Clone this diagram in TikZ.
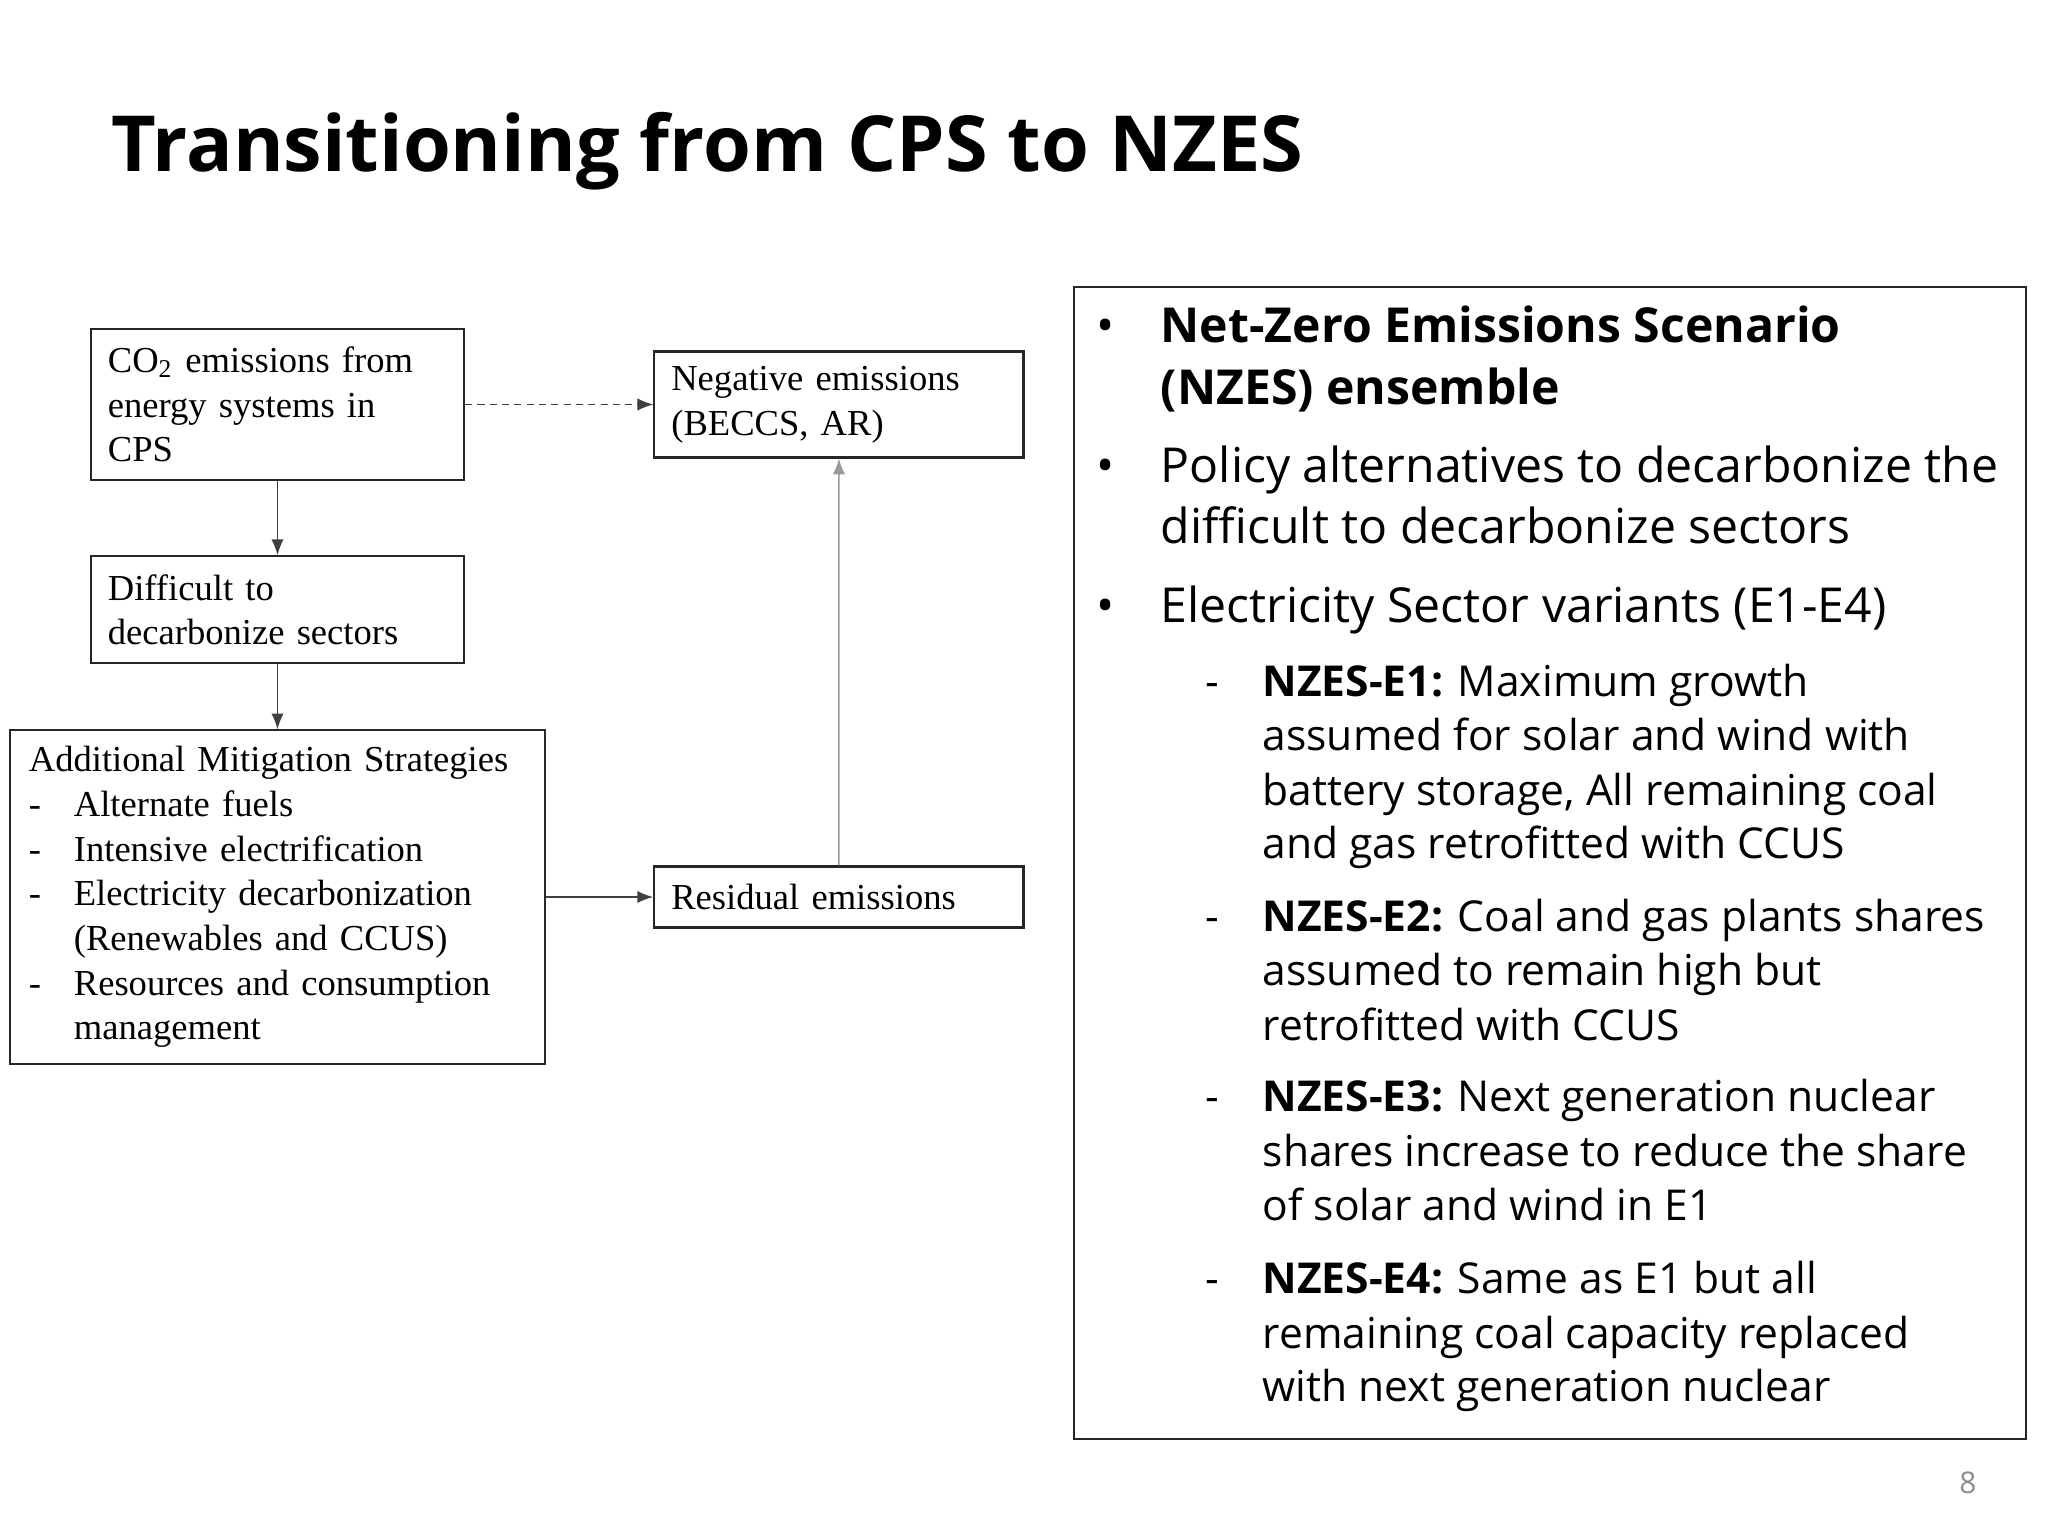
\documentclass[tikz,border=0pt]{standalone}
\usepackage{fontspec}
\setmainfont{Liberation Serif}
\newfontfamily\slidefont{Open Sans}
\definecolor{BoxLine}{gray}{0.15}
\definecolor{ArrowGray}{gray}{0.25}
\definecolor{PageGray}{gray}{0.55}
\usetikzlibrary{positioning, arrows.meta}

\begin{document}
\begin{tikzpicture}[
    x=0.01cm, y=-0.01cm,
    >={Latex[length=4.5pt, width=3.5pt]},
    flow_box/.style={draw=BoxLine, line width=0.6pt, inner xsep=0.17cm, inner ysep=0pt, align=left,
        font=\fontsize{10.4}{12.7}\selectfont},
    flow_arrow/.style={->, ArrowGray, line width=0.4pt},
    lvl_one/.style={anchor=base west, inner sep=0pt, font=\slidefont\fontsize{13.7}{17}\selectfont},
    lvl_two/.style={anchor=base west, inner sep=0pt, font=\slidefont\fontsize{12.1}{15}\selectfont}
]
    \useasboundingbox (0,0) rectangle (2048,1536);

    % 1. SLIDE TITLE
    \node[anchor=base west, inner sep=0pt, font=\slidefont\bfseries\fontsize{22}{26}\selectfont] (title) at (111,171) {Transitioning from CPS to NZES};

    % 2. FLOW DIAGRAM (Left)
    \node[flow_box, text width=3.39cm, minimum height=1.51cm] (cps) at (277.5,404.5) {CO\textsubscript{2} emissions from\\energy systems in\\CPS};
    \node[flow_box, text width=3.39cm, minimum height=1.07cm, below=0.74cm of cps] (hard) {Difficult to\\decarbonize sectors};
    \node[flow_box, inner xsep=0.19cm, text width=4.97cm, minimum height=3.33cm, below=0.65cm of hard] (mitig) {Additional Mitigation Strategies\\
        \makebox[0.45cm][l]{-}Alternate fuels\\
        \makebox[0.45cm][l]{-}Intensive electrification\\
        \makebox[0.45cm][l]{-}Electricity decarbonization\\
        \hspace*{0.45cm}(Renewables and CCUS)\\
        \makebox[0.45cm][l]{-}Resources and consumption\\
        \hspace*{0.45cm}management};
    \node[flow_box, text width=3.35cm, minimum height=1.06cm, right=1.88cm of cps] (neg) {Negative emissions\\(BECCS, AR)};
    \node[flow_box, text width=3.35cm, minimum height=0.61cm, right=1.07cm of mitig] (resid) {Residual emissions};

    \draw[flow_arrow, dash pattern=on 2pt off 1.5pt] (cps) -- (neg);
    \draw[flow_arrow] (cps) -- (hard);
    \draw[flow_arrow] (hard) -- (mitig);
    \draw[flow_arrow, line width=0.6pt] (mitig) -- (resid);
    \draw[flow_arrow, gray!80] (resid) -- (neg);

    % 3. SCENARIO PANEL (Right)
    \draw[BoxLine, line width=0.6pt] (1074,287) rectangle (2026,1439);
    \foreach \y in {342, 482, 622} {
        \node[lvl_one, anchor=base] (dot\y) at (1106,\y) {•};
    }
    \foreach \y/\t in {342/{\bfseries Net-Zero Emissions Scenario}, 404/{\bfseries (NZES) ensemble},
        482/{Policy alternatives to decarbonize the}, 543/{difficult to decarbonize sectors},
        622/{Electricity Sector variants (E1-E4)}} {
        \node[lvl_one] (one\y) at (1160,\y) {\t};
    }
    \foreach \y in {696, 931, 1111, 1293} {
        \node[lvl_two] (dash\y) at (1205,\y) {-};
    }
    \foreach \y/\t in {696/{\textbf{NZES-E1:} Maximum growth}, 750/{assumed for solar and wind with},
        805/{battery storage, All remaining coal}, 858/{and gas retrofitted with CCUS},
        931/{\textbf{NZES-E2:} Coal and gas plants shares}, 985/{assumed to remain high but},
        1040/{retrofitted with CCUS},
        1111/{\textbf{NZES-E3:} Next generation nuclear}, 1166/{shares increase to reduce the share},
        1220/{of solar and wind in E1},
        1293/{\textbf{NZES-E4:} Same as E1 but all}, 1348/{remaining coal capacity replaced},
        1401/{with next generation nuclear}} {
        \node[lvl_two] (two\y) at (1262,\y) {\t};
    }

    % 4. PAGE NUMBER
    \node[anchor=base, inner sep=0pt, text=PageGray, font=\slidefont\fontsize{8.5}{10}\selectfont] (page) at (1968,1493) {8};
\end{tikzpicture}
\end{document}
